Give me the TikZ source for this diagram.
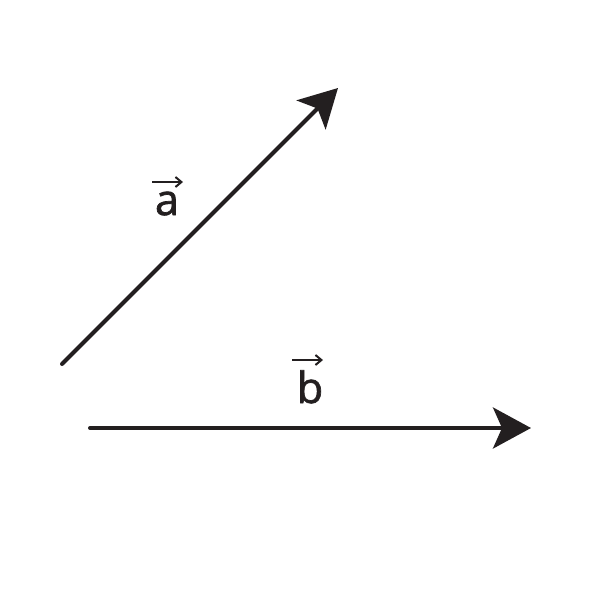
\documentclass[tikz,border=0pt]{standalone}
\usepackage{fontspec}
\setmainfont{Open Sans}
\newfontface\lblfont{Open Sans}[FakeBold=1.6]
\usetikzlibrary{arrows.meta}
\definecolor{ink}{HTML}{231F20}
\begin{document}
\begin{tikzpicture}[x=1pt,y=-1pt,
  vec/.style={draw=ink,line width=4pt,line cap=round,-{Stealth[length=38pt,width=41pt,inset=9pt]}},
  lbl/.style={text=ink,inner sep=0pt,anchor=base,font=\lblfont\fontsize{43}{43}\selectfont},
  overarrow/.style={draw=ink,line width=2pt,-{Straight Barb[length=6pt,width=10pt]}}]
\useasboundingbox (0,0) rectangle (600,600);
\coordinate (a0) at (62,364);
\coordinate (a1) at (338,88);
\coordinate (b0) at (90,428);
\coordinate (b1) at (531,428);
\draw[vec] (a0) -- (a1);
\draw[vec] (b0) -- (b1);
\node[lbl] (la) at (167,215) {a};
\node[lbl] (lb) at (310,403) {b};
\coordinate (la0) at (152,182);
\coordinate (la1) at (183,182);
\coordinate (lb0) at (292,360);
\coordinate (lb1) at (323,360);
\draw[overarrow] (la0) -- (la1);
\draw[overarrow] (lb0) -- (lb1);
\end{tikzpicture}
\end{document}
